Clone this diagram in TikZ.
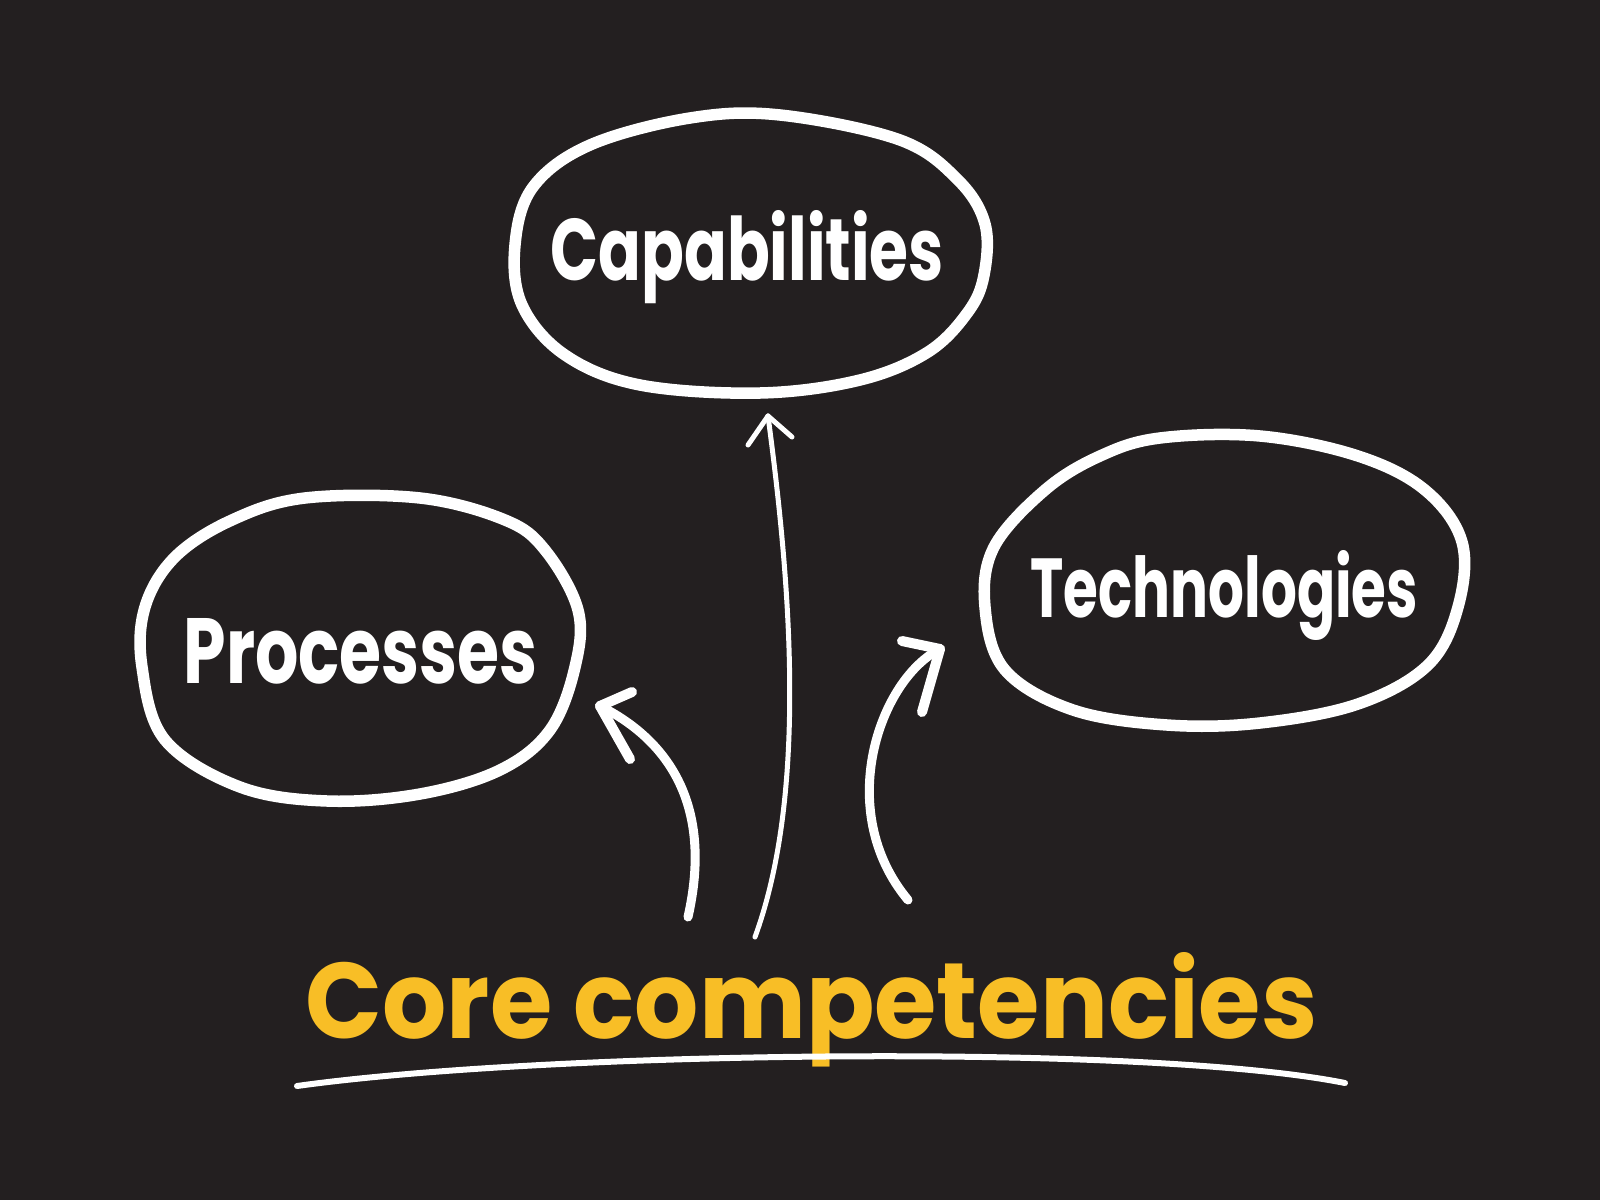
\documentclass[tikz,border=0pt]{standalone}
\usepackage{fontspec}
\usepackage{graphicx}
\setmainfont{Poppins}
\tikzstyle{every path}=[line cap=round, line join=round]
\definecolor{board}{RGB}{35,31,32}
\definecolor{chalk}{RGB}{255,255,255}
\definecolor{marker}{RGB}{248,190,38}
\tikzstyle{bubble}=[draw=chalk, line width=0.115cm]
\tikzstyle{word}=[inner sep=0pt, text=chalk, anchor=base west, font=\bfseries]
\tikzstyle{stem}=[draw=chalk, line width=0.09cm]
\tikzstyle{barb}=[draw=chalk, line width=0.1cm]
\newcommand{\wordbox}[3]{\resizebox{#1}{#2}{#3}}

\begin{document}
\begin{tikzpicture}[x=0.01cm, y=-0.01cm]
            \fill[board] (0,0) rectangle (1600,1200);
            \useasboundingbox (0,0) rectangle (1600,1200);

            % bubbles
            \draw[bubble] plot[smooth cycle, tension=0.6] coordinates {
                (690,118) (780,115) (900,140) (958,180) (985,224) (984,275)
                (968,312) (928,352) (860,380) (760,393) (640,385) (565,355)
                (522,305) (515,245) (533,187) (590,145)};
            \draw[bubble] plot[smooth cycle, tension=0.6] coordinates {
                (305,498) (420,498) (505,520) (545,550) (578,610) (575,667)
                (550,730) (500,770) (420,794) (327,801) (240,787) (165,740)
                (142,667) (145,607) (175,557) (232,520)};
            \draw[bubble] plot[smooth cycle, tension=0.6] coordinates {
                (1160,438) (1260,436) (1358,456) (1425,490) (1462,542) (1458,607)
                (1428,665) (1358,704) (1260,723) (1167,725) (1073,710) (1005,670)
                (985,607) (994,547) (1045,490) (1100,456)};

            \node[word] (cap) at (550,280) {\wordbox{3.93cm}{0.70cm}{Capabilities}};
            \node[word] (proc) at (183,683) {\wordbox{3.54cm}{0.65cm}{Processes}};
            \node[word] (tech) at (1030,617) {\wordbox{3.87cm}{0.67cm}{Technologies}};
            \node[word, text=marker] (core) at (305,1038)
                {\wordbox{10.11cm}{0.86cm}{Core competencies}};

            % arrows
            \coordinate (procFoot) at (688,917);
            \coordinate (procTip) at (600,706);
            \coordinate (capFoot) at (755,937);
            \coordinate (capTip) at (768,416);
            \coordinate (techFoot) at (908,900);
            \coordinate (techTip) at (940,649);

            \draw[stem] (procFoot) .. controls +(25,-110) and +(70,35) .. (procTip);
            \draw[barb] (procTip) -- +(32,-14);
            \draw[barb] (procTip) -- +(30,53);

            \draw[stem, line width=0.05cm] (capFoot) .. controls +(55,-150) and +(20,150) .. (capTip);
            \draw[stem, line width=0.05cm] (capTip) -- +(-20,29);
            \draw[stem, line width=0.05cm] (capTip) -- +(24,21);

            \draw[stem] (techFoot) .. controls +(-75,-90) and +(-60,30) .. (techTip);
            \draw[barb] (techTip) -- +(-38,-8);
            \draw[barb] (techTip) -- +(-18,63);

            % underline
            \coordinate (lineL) at (297,1086);
            \coordinate (lineR) at (1345,1083);
            \draw[stem, line width=0.06cm] (lineL) .. controls +(250,-35) and +(-200,-40) .. (lineR);
        \end{tikzpicture}
\end{document}
